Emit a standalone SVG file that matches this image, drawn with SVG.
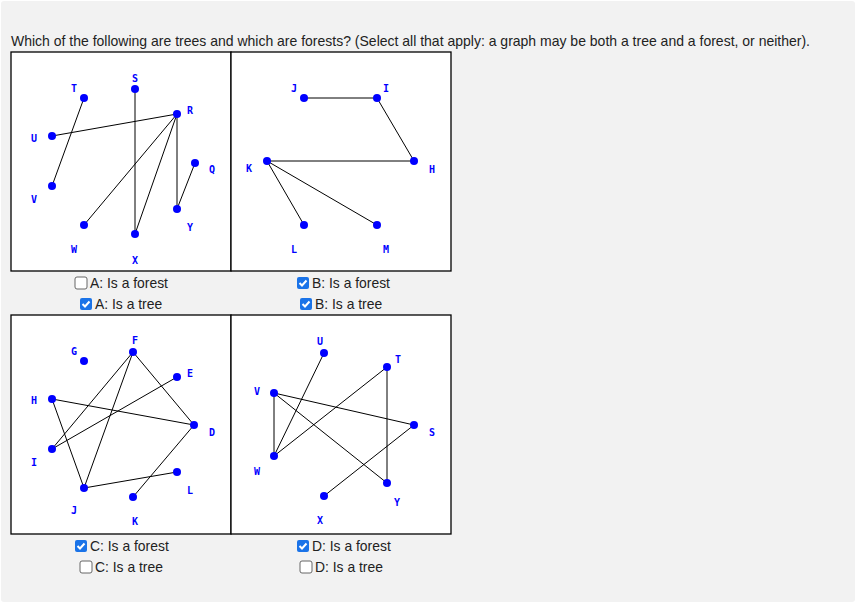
<svg xmlns="http://www.w3.org/2000/svg" width="856" height="603" viewBox="0 0 856 603">
<style>
.bg{fill:#f2f2f2}
.panel{fill:#fff;stroke:#000;stroke-width:1.3}
.e line{stroke:#000;stroke-width:1}
.n circle{fill:#0000ff}
.lb{font-family:"DejaVu Sans Mono",monospace;font-weight:bold;font-size:10px;fill:#0000ff;text-anchor:middle}
.q{font-family:"Liberation Sans",Arial,sans-serif;font-size:13.9px;fill:#222}
.t{font-family:"Liberation Sans",Arial,sans-serif;font-size:13.9px;fill:#222}
.cb{fill:#fff;stroke:#666;stroke-width:1}
.cbc{fill:#1a73e8}
.ck{fill:none;stroke:#fff;stroke-width:2}
</style>
<rect class="bg" x="1" y="1" width="854" height="601" rx="3"/>
<text class="q" x="11" y="46" textLength="799" lengthAdjust="spacingAndGlyphs">Which of the following are trees and which are forests? (Select all that apply: a graph may be both a tree and a forest, or neither).</text>
<rect class="panel" x="11" y="52" width="220" height="219"/>
<rect class="panel" x="231" y="52" width="220" height="219"/>
<rect class="panel" x="11" y="315" width="220" height="219"/>
<rect class="panel" x="231" y="315" width="220" height="219"/>
<g id="connectors" class="e">
<line x1="84" y1="98" x2="52" y2="186"/><line x1="52" y1="136" x2="177" y2="114"/><line x1="135" y1="89" x2="135" y2="234"/><line x1="177" y1="114" x2="84" y2="225"/><line x1="177" y1="114" x2="135" y2="234"/><line x1="177" y1="114" x2="177" y2="209"/><line x1="177" y1="209" x2="195" y2="163"/>
<line x1="304" y1="98" x2="377" y2="98"/><line x1="377" y1="98" x2="414" y2="161"/><line x1="267" y1="161" x2="414" y2="161"/><line x1="267" y1="161" x2="304" y2="225"/><line x1="267" y1="161" x2="377" y2="225"/>
<line x1="133" y1="352" x2="52" y2="449"/><line x1="133" y1="352" x2="84" y2="488"/><line x1="133" y1="352" x2="194" y2="425"/><line x1="177" y1="377" x2="52" y2="449"/><line x1="52" y1="399" x2="194" y2="425"/><line x1="52" y1="399" x2="84" y2="488"/><line x1="84" y1="488" x2="177" y2="472"/><line x1="194" y1="425" x2="133" y2="497"/>
<line x1="324" y1="353" x2="274" y2="456"/><line x1="387" y1="367" x2="274" y2="456"/><line x1="274" y1="393" x2="274" y2="456"/><line x1="274" y1="393" x2="414" y2="425"/><line x1="274" y1="393" x2="387" y2="483"/><line x1="387" y1="367" x2="387" y2="483"/><line x1="414" y1="425" x2="324" y2="496"/>
</g>
<g id="A-nodes" class="n">
<g id="A-T"><circle cx="84" cy="98" r="4"/><text class="lb" x="74" y="92">T</text></g>
<g id="A-S"><circle cx="135" cy="89" r="4"/><text class="lb" x="135" y="82">S</text></g>
<g id="A-R"><circle cx="177" cy="114" r="4"/><text class="lb" x="190" y="114">R</text></g>
<g id="A-U"><circle cx="52" cy="136" r="4"/><text class="lb" x="34" y="142">U</text></g>
<g id="A-Q"><circle cx="195" cy="163" r="4"/><text class="lb" x="212" y="173">Q</text></g>
<g id="A-V"><circle cx="52" cy="186" r="4"/><text class="lb" x="34" y="203">V</text></g>
<g id="A-Y"><circle cx="177" cy="209" r="4"/><text class="lb" x="190" y="231">Y</text></g>
<g id="A-W"><circle cx="84" cy="225" r="4"/><text class="lb" x="74" y="253">W</text></g>
<g id="A-X"><circle cx="135" cy="234" r="4"/><text class="lb" x="135" y="264">X</text></g>
</g>
<g id="B-nodes" class="n">
<g id="B-J"><circle cx="304" cy="98" r="4"/><text class="lb" x="294" y="92">J</text></g>
<g id="B-I"><circle cx="377" cy="98" r="4"/><text class="lb" x="386" y="92">I</text></g>
<g id="B-K"><circle cx="267" cy="161" r="4"/><text class="lb" x="249" y="172">K</text></g>
<g id="B-H"><circle cx="414" cy="161" r="4"/><text class="lb" x="432" y="173">H</text></g>
<g id="B-L"><circle cx="304" cy="225" r="4"/><text class="lb" x="294" y="253">L</text></g>
<g id="B-M"><circle cx="377" cy="225" r="4"/><text class="lb" x="386" y="253">M</text></g>
</g>
<g id="C-nodes" class="n">
<g id="C-F"><circle cx="133" cy="352" r="4"/><text class="lb" x="135" y="344">F</text></g>
<g id="C-G"><circle cx="84" cy="361" r="4"/><text class="lb" x="74" y="355">G</text></g>
<g id="C-E"><circle cx="177" cy="377" r="4"/><text class="lb" x="190" y="377">E</text></g>
<g id="C-H"><circle cx="52" cy="399" r="4"/><text class="lb" x="34" y="404">H</text></g>
<g id="C-D"><circle cx="194" cy="425" r="4"/><text class="lb" x="212" y="436">D</text></g>
<g id="C-I"><circle cx="52" cy="449" r="4"/><text class="lb" x="34" y="466">I</text></g>
<g id="C-L"><circle cx="177" cy="472" r="4"/><text class="lb" x="190" y="494">L</text></g>
<g id="C-J"><circle cx="84" cy="488" r="4"/><text class="lb" x="74" y="514">J</text></g>
<g id="C-K"><circle cx="133" cy="497" r="4"/><text class="lb" x="135" y="525">K</text></g>
</g>
<g id="D-nodes" class="n">
<g id="D-U"><circle cx="324" cy="353" r="4"/><text class="lb" x="320" y="345">U</text></g>
<g id="D-T"><circle cx="387" cy="367" r="4"/><text class="lb" x="398" y="363">T</text></g>
<g id="D-V"><circle cx="274" cy="393" r="4"/><text class="lb" x="257" y="395">V</text></g>
<g id="D-S"><circle cx="414" cy="425" r="4"/><text class="lb" x="432" y="436">S</text></g>
<g id="D-W"><circle cx="274" cy="456" r="4"/><text class="lb" x="257" y="475">W</text></g>
<g id="D-Y"><circle cx="387" cy="483" r="4"/><text class="lb" x="397" y="506">Y</text></g>
<g id="D-X"><circle cx="324" cy="496" r="4"/><text class="lb" x="320" y="524">X</text></g>
</g>
<g id="checks">
<rect class="cb" x="75" y="277" width="12" height="12" rx="2"/><text class="t" x="90" y="288">A: Is a forest</text>
<rect class="cbc" x="80" y="298" width="12" height="12" rx="2"/><path class="ck" d="M82.5,304 l2.5,2.5 l4.5,-5"/><text class="t" x="95" y="309">A: Is a tree</text>
<rect class="cbc" x="297" y="277" width="12" height="12" rx="2"/><path class="ck" d="M299.5,283 l2.5,2.5 l4.5,-5"/><text class="t" x="312" y="288">B: Is a forest</text>
<rect class="cbc" x="300" y="298" width="12" height="12" rx="2"/><path class="ck" d="M302.5,304 l2.5,2.5 l4.5,-5"/><text class="t" x="315" y="309">B: Is a tree</text>
<rect class="cbc" x="75" y="540" width="12" height="12" rx="2"/><path class="ck" d="M77.5,546 l2.5,2.5 l4.5,-5"/><text class="t" x="90" y="551">C: Is a forest</text>
<rect class="cb" x="80" y="561" width="12" height="12" rx="2"/><text class="t" x="95" y="572">C: Is a tree</text>
<rect class="cbc" x="297" y="540" width="12" height="12" rx="2"/><path class="ck" d="M299.5,546 l2.5,2.5 l4.5,-5"/><text class="t" x="312" y="551">D: Is a forest</text>
<rect class="cb" x="300" y="561" width="12" height="12" rx="2"/><text class="t" x="315" y="572">D: Is a tree</text>
</g>
</svg>
